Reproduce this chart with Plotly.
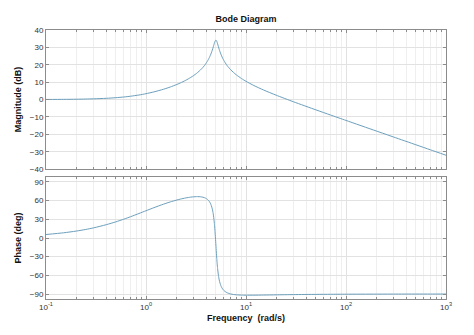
import plotly.graph_objects as go

freq = [0.1, 0.15, 0.2, 0.25, 0.3, 0.4, 0.5, 0.6, 0.7, 0.85, 1, 1.2, 1.5, 1.75, 2, 2.2, 2.5,
        2.8, 3, 3.2, 3.3, 3.5, 3.6, 3.8, 3.9, 4, 4.1, 4.2, 4.3, 4.4, 4.5, 4.6, 4.7, 4.8,
        4.85, 4.9, 4.95, 5.0, 5.05, 5.1, 5.15, 5.2, 5.3, 5.4, 5.5, 5.6, 5.7, 5.85, 6, 6.2,
        6.5, 7, 7.5, 8, 9, 10, 12, 15, 20, 30, 50, 70, 100, 200, 300, 500, 700, 1000]
mag_db = [0.05, 0.10, 0.18, 0.29, 0.41, 0.70, 1.06, 1.46, 1.90, 2.61, 3.36, 4.39, 5.93, 7.22,
          8.49, 9.52, 11.08, 12.71, 13.83, 15.03, 15.66, 16.97, 17.70, 19.23, 20.07, 20.97,
          21.94, 22.99, 24.14, 25.41, 26.82, 28.40, 30.14, 31.95, 32.79, 33.50, 33.98, 34.15,
          33.98, 33.51, 32.84, 32.05, 30.40, 28.84, 27.45, 26.22, 25.13, 23.71, 22.50, 21.13,
          19.40, 17.23, 15.58, 14.21, 12.11, 10.48, 8.05, 5.47, 2.51, -1.34, -5.93, -8.90,
          -12.02, -18.06, -21.58, -26.02, -28.94, -32.04]
phase_deg = [5.60, 8.36, 11.08, 13.75, 16.35, 21.34, 25.99, 30.26, 34.17, 39.36, 43.81, 48.73,
             54.42, 57.98, 60.70, 62.44, 64.39, 65.69, 66.21, 66.46, 66.47, 66.23, 65.98, 65.06,
             64.36, 63.43, 62.24, 60.69, 58.64, 55.88, 52.12, 46.82, 39.07, 27.47, 19.70, 10.47,
             -0.05, -11.31, -22.46, -32.70, -41.60, -49.0, -60.08, -67.49, -72.65, -76.36,
             -79.12, -82.10, -84.20, -86.17, -88.08, -89.83, -90.75, -91.27, -91.75, -91.90,
             -91.87, -91.66, -91.33, -90.93, -90.57, -90.41, -90.28, -90.15, -90.10, -90.06,
             -90.04, -90.03]

xtickvals = [0.1, 1, 10, 100, 1000]
xticktext = ["10<sup>-1</sup>", "10<sup>0</sup>", "10<sup>1</sup>", "10<sup>2</sup>", "10<sup>3</sup>"]
xminorvals = [m * d for d in [0.1, 1, 10, 100] for m in range(2, 10)]
mag_ticks = [-40, -30, -20, -10, 0, 10, 20, 30, 40]
phase_ticks = [-90, -60, -30, 0, 30, 60, 90]

line_color = "#6c9fbc"
font_family = "Liberation Sans, Arial, sans-serif"
tick_color = "#333333"
axis_color = "#8c8c8c"
grid_color = "#e2e2e2"
minor_grid = "#efefef"

fig = go.Figure()
fig.add_trace(go.Scatter(x=freq, y=mag_db, mode="lines",
                         line=dict(color=line_color, width=1.0, shape="spline", smoothing=0.6),
                         xaxis="x", yaxis="y", showlegend=False))
fig.add_trace(go.Scatter(x=freq, y=phase_deg, mode="lines",
                         line=dict(color=line_color, width=1.0, shape="spline", smoothing=0.6),
                         xaxis="x2", yaxis="y2", showlegend=False))

common_x = dict(type="log", range=[-1, 3], showgrid=True, gridcolor=grid_color, gridwidth=1,
                ticks="inside", ticklen=3, tickcolor=axis_color, mirror="allticks",
                showline=True, linecolor=axis_color, linewidth=1, zeroline=False,
                tickmode="array", tickvals=xtickvals,
                minor=dict(tickmode="array", tickvals=xminorvals, ticks="inside", ticklen=2,
                           tickcolor=axis_color, showgrid=True, gridcolor=minor_grid, gridwidth=1))
common_y = dict(showgrid=True, gridcolor=grid_color, gridwidth=1, ticks="inside", ticklen=3,
                tickcolor=axis_color, mirror="allticks", showline=True, linecolor=axis_color,
                linewidth=1, zeroline=False, tickmode="array",
                tickfont=dict(size=8, color=tick_color, family=font_family))

fig.update_layout(
    width=474, height=335,
    margin=dict(l=46, r=28, t=30, b=36),
    paper_bgcolor="white", plot_bgcolor="white",
    font=dict(family=font_family, size=8, color=tick_color),
    title=dict(text="<b>Bode Diagram</b>", x=246 / 474, xanchor="center", y=1 - 19 / 335,
               yanchor="middle", font=dict(size=9, color="#111111", family=font_family)),
    xaxis=dict(common_x, domain=[0, 1], anchor="y", showticklabels=False),
    xaxis2=dict(common_x, domain=[0, 1], anchor="y2", ticktext=xticktext,
                tickfont=dict(size=8, color=tick_color, family=font_family),
                title=dict(text="<b>Frequency  (rad/s)</b>", standoff=4,
                           font=dict(size=9, color="#111111", family=font_family))),
    yaxis=dict(common_y, domain=[0.483, 1], range=[-40, 40], tickvals=mag_ticks, anchor="x",
               title=dict(text="<b>Magnitude (dB)</b>", standoff=6,
                          font=dict(size=9, color="#111111", family=font_family))),
    yaxis2=dict(common_y, domain=[0, 0.4535], range=[-98, 98], tickvals=phase_ticks, anchor="x2",
                title=dict(text="<b>Phase (deg)</b>", standoff=6,
                           font=dict(size=9, color="#111111", family=font_family))),
)

fig.write_html("out.html")
